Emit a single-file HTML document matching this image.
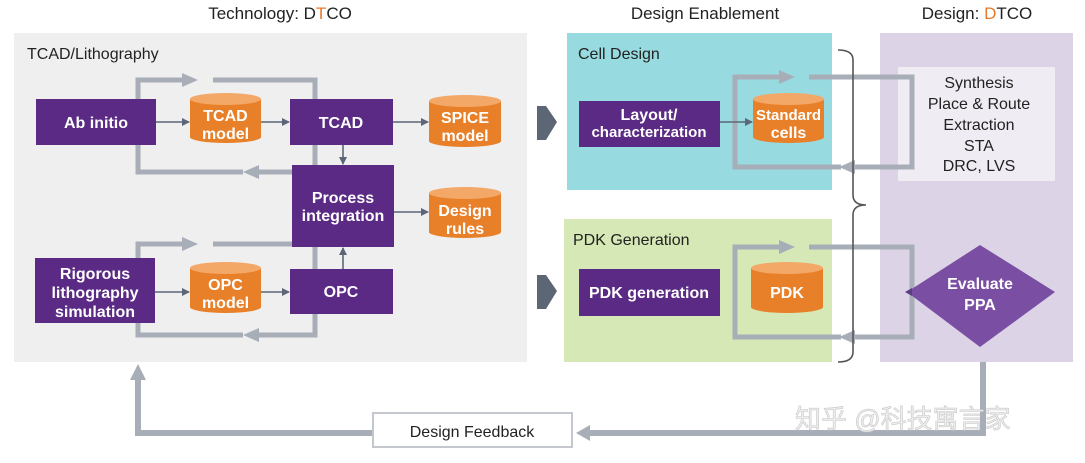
<!DOCTYPE html>
<html><head><meta charset="utf-8"><style>
html,body{margin:0;padding:0;background:#fff;}
svg{display:block;}
text{font-family:"Liberation Sans","Noto Sans CJK SC",sans-serif;}
</style></head><body>
<svg width="1085" height="463" viewBox="0 0 1085 463" xmlns="http://www.w3.org/2000/svg">
<defs>
<marker id="sa" markerWidth="8" markerHeight="8" refX="7" refY="4" orient="auto" markerUnits="userSpaceOnUse"><path d="M0,0 L8,4 L0,8 z" fill="#5c6678"/></marker>
</defs>
<g font-size="17" fill="#222" text-anchor="middle">
<text x="280" y="19">Technology: D<tspan fill="#e8782a">T</tspan>CO</text>
<text x="705" y="19">Design Enablement</text>
<text x="977" y="19"><tspan fill="#222">Design: </tspan><tspan fill="#e8782a">D</tspan>TCO</text>
</g>
<rect x="14" y="33" width="513" height="329" fill="#efefef"/>
<rect x="567" y="33" width="265" height="157" fill="#97dbe0"/>
<rect x="564" y="219" width="268" height="143" fill="#d5e8b5"/>
<rect x="880" y="33" width="193" height="329" fill="#dcd3e6"/>
<rect x="898" y="67" width="157" height="114" fill="#efedf3"/>
<g font-size="16" fill="#222">
<text x="27" y="59">TCAD/Lithography</text>
<text x="578" y="59">Cell Design</text>
<text x="573" y="245">PDK Generation</text>
</g>
<g stroke="#a8aeb8" stroke-width="5" fill="none">
<polyline points="184,80 138,80 138,172 243,172"/>
<polyline points="213,80 315,80 315,172 257,172"/>
<polyline points="184,244 138,244 138,335 243,335"/>
<polyline points="213,244 315,244 315,335 257,335"/>
<polyline points="780,77 735,77 735,167 841,167"/>
<polyline points="809,77 912,77 912,167 853,167"/>
<polyline points="780,247 735,247 735,337 841,337"/>
<polyline points="809,247 912,247 912,337 853,337"/>
</g>
<g fill="#a8aeb8">
<path d="M182,73 L198,80 L182,87 z"/><path d="M259,165 L243,172 L259,179 z"/>
<path d="M182,237 L198,244 L182,251 z"/><path d="M259,328 L243,335 L259,342 z"/>
<path d="M779,70 L795,77 L779,84 z"/><path d="M855,160 L839,167 L855,174 z"/>
<path d="M779,240 L795,247 L779,254 z"/><path d="M855,330 L839,337 L855,344 z"/>
</g>
<g stroke="#5c6678" stroke-width="1.6" marker-end="url(#sa)">
<line x1="156" y1="122" x2="189" y2="122"/>
<line x1="261" y1="122" x2="289" y2="122"/>
<line x1="393" y1="122" x2="428" y2="122"/>
<line x1="343" y1="145" x2="343" y2="164"/>
<line x1="394" y1="212" x2="428" y2="212"/>
<line x1="155" y1="292" x2="189" y2="292"/>
<line x1="261" y1="292" x2="289" y2="292"/>
<line x1="343" y1="269" x2="343" y2="248"/>
<line x1="720" y1="122" x2="752" y2="122"/>
</g>
<g fill="#5a2a84">
<rect x="36" y="99" width="120" height="46"/>
<rect x="290" y="99" width="103" height="46"/>
<rect x="292" y="165" width="102" height="82"/>
<rect x="35" y="258" width="120" height="65"/>
<rect x="290" y="269" width="103" height="45"/>
<rect x="579" y="101" width="141" height="46"/>
<rect x="579" y="269" width="141" height="47"/>
</g>
<g font-size="16" fill="#fff" text-anchor="middle" font-weight="bold">
<text x="96" y="128">Ab initio</text>
<text x="341" y="128">TCAD</text>
<text x="343" y="203">Process</text><text x="343" y="221">integration</text>
<text x="95" y="279">Rigorous</text><text x="95" y="298">lithography</text><text x="95" y="317">simulation</text>
<text x="341" y="297">OPC</text>
<text x="649" y="120">Layout/</text><text x="649" y="137" font-size="15">characterization</text>
<text x="649" y="298">PDK generation</text>
</g>
<g>
<g><rect x="190" y="99" width="71" height="38" fill="#e8802a"/><ellipse cx="225.5" cy="137" rx="35.5" ry="6" fill="#e8802a"/><ellipse cx="225.5" cy="99" rx="35.5" ry="6" fill="#f3a867"/></g>
<g><rect x="429" y="101" width="72" height="40" fill="#e8802a"/><ellipse cx="465" cy="141" rx="36" ry="6" fill="#e8802a"/><ellipse cx="465" cy="101" rx="36" ry="6" fill="#f3a867"/></g>
<g><rect x="429" y="193" width="72" height="39" fill="#e8802a"/><ellipse cx="465" cy="232" rx="36" ry="6" fill="#e8802a"/><ellipse cx="465" cy="193" rx="36" ry="6" fill="#f3a867"/></g>
<g><rect x="190" y="268" width="71" height="39" fill="#e8802a"/><ellipse cx="225.5" cy="307" rx="35.5" ry="6" fill="#e8802a"/><ellipse cx="225.5" cy="268" rx="35.5" ry="6" fill="#f3a867"/></g>
<g><rect x="753" y="99" width="71" height="38" fill="#e8802a"/><ellipse cx="788.5" cy="137" rx="35.5" ry="6" fill="#e8802a"/><ellipse cx="788.5" cy="99" rx="35.5" ry="6" fill="#f3a867"/></g>
<g><rect x="751" y="268" width="72" height="39" fill="#e8802a"/><ellipse cx="787" cy="307" rx="36" ry="6" fill="#e8802a"/><ellipse cx="787" cy="268" rx="36" ry="6" fill="#f3a867"/></g>
</g>
<g font-size="16" fill="#fff" text-anchor="middle" font-weight="bold">
<text x="225.5" y="121">TCAD</text><text x="225.5" y="139">model</text>
<text x="465" y="123">SPICE</text><text x="465" y="141">model</text>
<text x="465" y="216">Design</text><text x="465" y="234">rules</text>
<text x="225.5" y="290">OPC</text><text x="225.5" y="308">model</text>
<text x="788.5" y="120" font-size="15">Standard</text><text x="788.5" y="138">cells</text>
<text x="787" y="298">PDK</text>
</g>
<g fill="#5d6675">
<path d="M537,106 L546,106 L557,122 L546,140 L537,140 z"/>
<path d="M537,275 L546,275 L557,291 L546,309 L537,309 z"/>
</g>
<path d="M838,50 Q853,50 853,60 L853,195 Q853,205 866,205 Q853,205 853,215 L853,352 Q853,362 838,362" fill="none" stroke="#555" stroke-width="1.6"/>
<g font-size="16" fill="#222" text-anchor="middle">
<text x="979" y="88">Synthesis</text>
<text x="979" y="109">Place &amp; Route</text>
<text x="979" y="130">Extraction</text>
<text x="979" y="151">STA</text>
<text x="979" y="171">DRC, LVS</text>
</g>
<path d="M980,245 L1055,292 L980,347 L907,292 z" fill="#7a4fa3"/>
<path d="M905,292 L912,288 L912,296 z" fill="#5a3d85"/>
<g font-size="16" fill="#fff" text-anchor="middle" font-weight="bold">
<text x="980" y="289">Evaluate</text><text x="980" y="310">PPA</text>
</g>
<g stroke="#a8aeb8" stroke-width="6" fill="none">
<polyline points="983,362 983,433 590,433"/>
<polyline points="373,433 138,433 138,378"/>
</g>
<path d="M590,425 L576,433 L590,441 z" fill="#a8aeb8"/>
<path d="M130,380 L138,364 L146,380 z" fill="#a8aeb8"/>
<rect x="373" y="413" width="199" height="34" fill="#fff" stroke="#c4c8ce" stroke-width="2"/>
<text x="472" y="437" font-size="16" fill="#222" text-anchor="middle">Design Feedback</text>
<text x="795" y="428" font-size="26" fill="#eeeeee" stroke="#c8c8c8" stroke-width="0.6">知乎 @科技寓言家</text>
</svg>
</body></html>
